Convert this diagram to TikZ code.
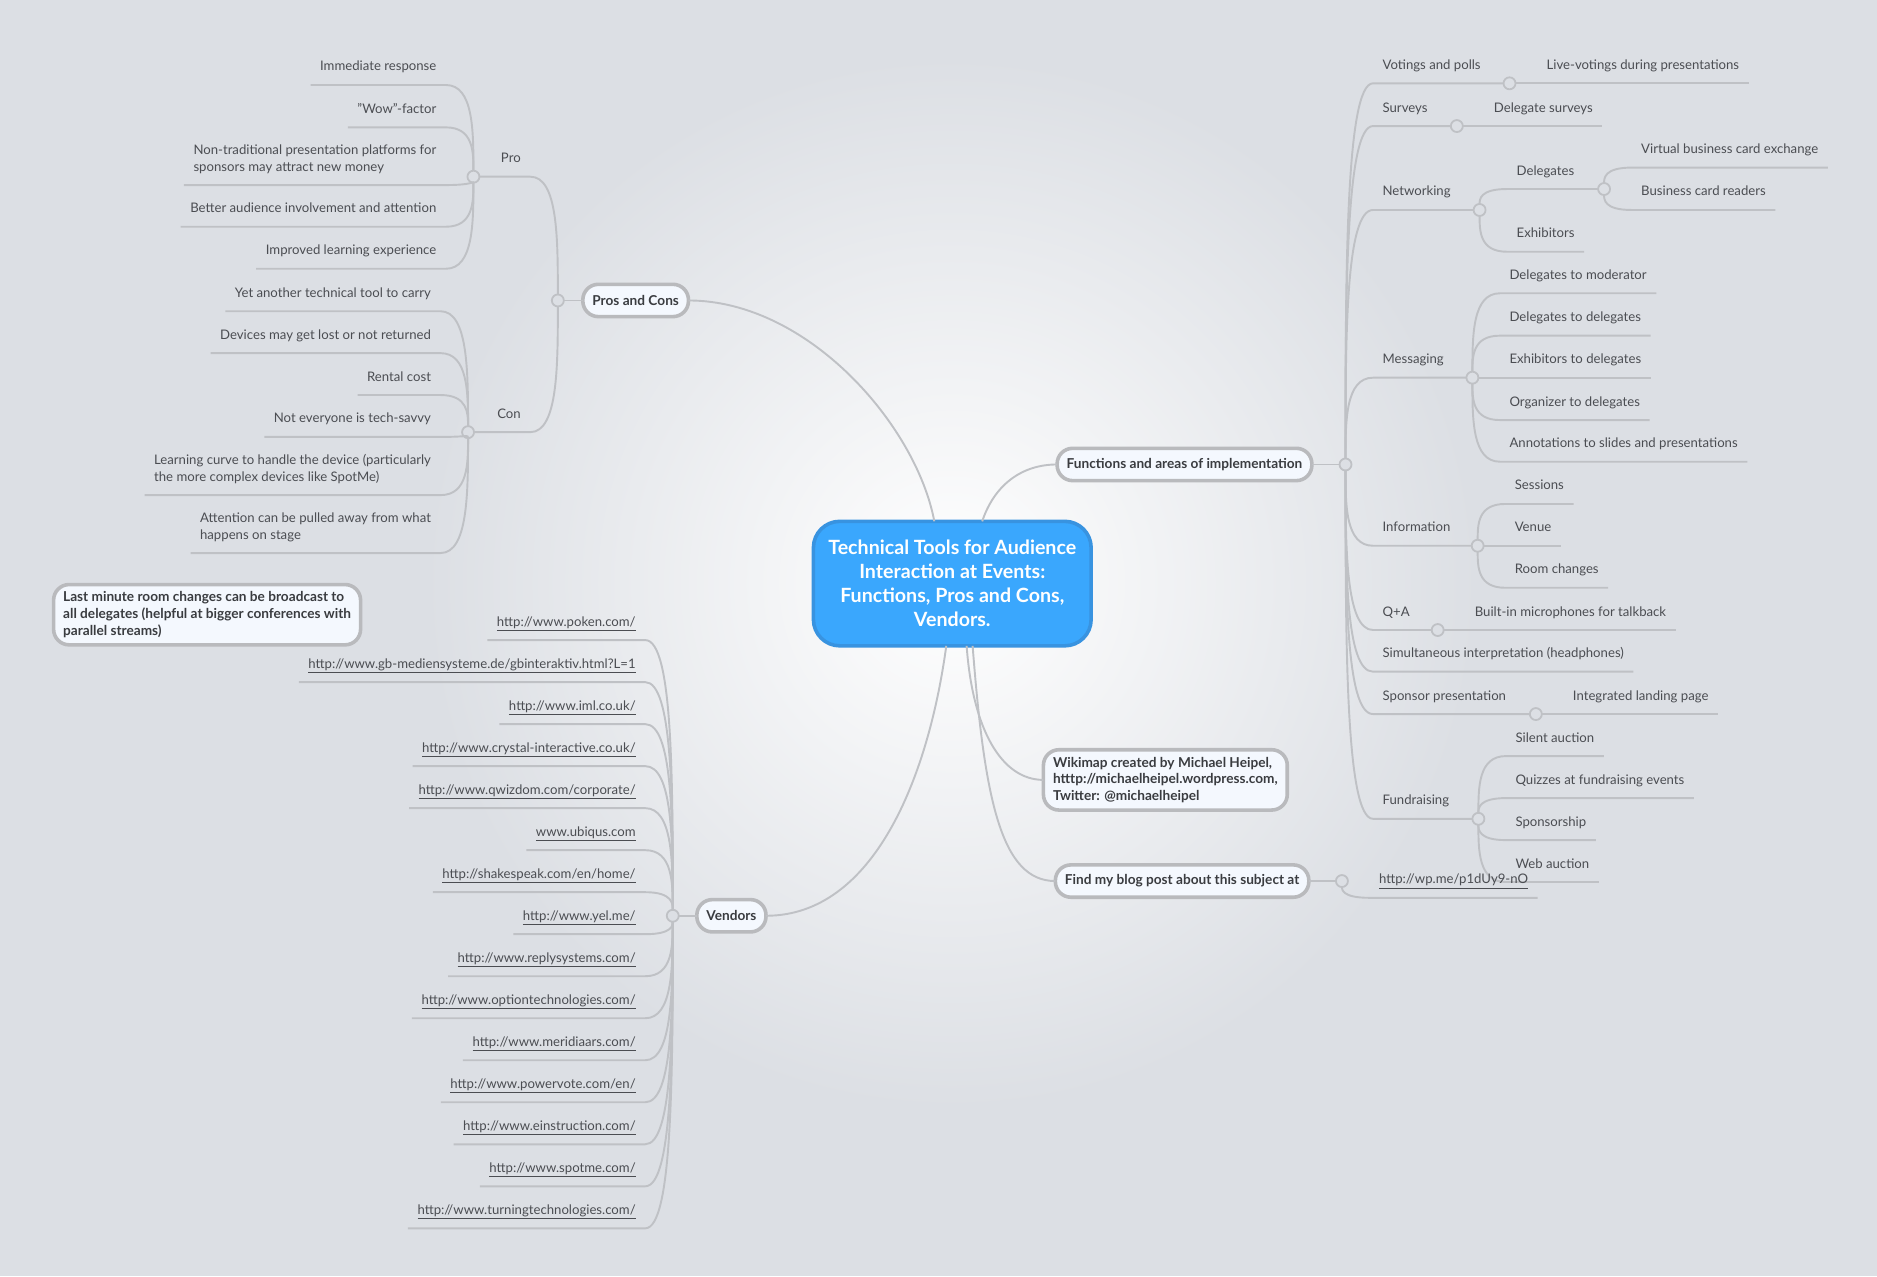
\documentclass[tikz,border=0pt]{standalone}
\usepackage{fontspec}
\setmainfont{Lato}
\usepackage{xcolor}
\usepackage{tikz}
\usetikzlibrary{calc, positioning}
\definecolor{cBg}{HTML}{DCDFE4}
\definecolor{cLine}{HTML}{BFC1C5}
\definecolor{cEdge}{HTML}{B9BABD}
\definecolor{cText}{HTML}{4B4D52}
\definecolor{cDark}{HTML}{3A3C40}
\definecolor{cCard}{HTML}{F4F8FE}
\definecolor{cBlue}{HTML}{3AA7FD}
\definecolor{cBlueEdge}{HTML}{3893E0}
% curved twig from a junction to the near end of an underline
\newcommand{\twig}[2]{\draw[twig] (#1) .. controls ($(#1)!0.5!(#1|-#2)$) and (#1|-#2) .. (#2)}

\begin{document}
\begin{tikzpicture}[
    x=1pt, y=-1pt,
    twig/.style={draw=cLine, line width=1.6pt},
    jn/.style={circle, draw=cLine, fill=cBg, line width=1.5pt,
               minimum size=10pt, inner sep=0pt, outer sep=0pt},
    leaf/.style={font=\fontsize{11}{14}\selectfont, text=cText,
                 inner xsep=8pt, inner ysep=7.5pt, outer sep=0pt,
                 align=left, execute at end node=\strut},
    lleaf/.style={leaf, anchor=south east},
    rleaf/.style={leaf, anchor=south west},
    card/.style={draw=cEdge, line width=3pt, fill=cCard, rounded corners=13pt,
                 font=\fontsize{11.4}{14}\selectfont\bfseries, text=cDark,
                 inner xsep=8pt, inner ysep=6pt, minimum height=27pt,
                 outer sep=0pt, align=left},
  ]
  \useasboundingbox (0,0) rectangle (1568,1066);
  \fill[cBg] (0,0) rectangle (1568,1066);
  \shade[inner color=white, outer color=cBg] (795,487) circle (440);

  % Main topic and branches
  \node[draw=cBlueEdge, line width=3pt, fill=cBlue, rounded corners=22pt,
        text=white, font=\fontsize{16.4}{20}\selectfont\bfseries, align=center,
        minimum width=232pt, minimum height=104pt, outer sep=0pt]
    (ctr) at (795.5,487.5) {Technical Tools for Audience\\Interaction at Events:\\
    Functions, Pros and Cons,\\Vendors.};
  \node[card] (pc) at (531,251) {Pros and Cons};
  \node[card] (fn) at (989.5,388) {Functions and areas of implementation};
  \node[card] (vd) at (611,765) {Vendors};
  \node[card] (wk) at (973.5,651.5) {Wikimap created by Michael Heipel,\\
    htttp://michaelheipel.wordpress.com,\\Twitter: @michaelheipel};
  \node[card] (bl) at (987.5,736) {Find my blog post about this subject at};
  \node[card] (lm) at (173,513.5) {Last minute room changes can be broadcast to\\
    all delegates (helpful at bigger conferences with\\parallel streams)};

  \draw[twig] ($(ctr.north)+(-15,0)$) .. controls +(-15,-80) and +(100,0) .. (pc.east);
  \draw[twig] ($(ctr.north)+(25,0)$) .. controls +(10,-30) and +(-30,0) .. (fn.west);
  \draw[twig] ($(ctr.south)+(-5,0)$) .. controls +(-15,110) and +(90,0) .. (vd.east);
  \draw[twig] ($(ctr.south)+(12,0)$) .. controls +(5,70) and +(-35,0) .. (wk.west);
  \draw[twig] ($(ctr.south)+(17,0)$) .. controls +(10,130) and +(-45,0) .. (bl.west);

  % Junctions
  \node[jn] (jpc)  at (466,251) {};
  \node[jn] (jpro) at (395.5,147.6) {};
  \node[jn] (jcon) at (391,361) {};
  \node[jn] (jv)   at (562,765) {};
  \node[jn] (jf)   at (1124,388) {};
  \node[jn] (jvp)  at (1261,69.6) {};
  \node[jn] (jsv)  at (1217,105.3) {};
  \node[jn] (jnw)  at (1236,175.4) {};
  \node[jn] (jdl)  at (1340,157.9) {};
  \node[jn] (jms)  at (1230,315.5) {};
  \node[jn] (jinf) at (1234.4,455.9) {};
  \node[jn] (jqa)  at (1201,526.3) {};
  \node[jn] (jsp)  at (1283,596.5) {};
  \node[jn] (jfr)  at (1235,684) {};
  \node[jn] (jbl)  at (1121,736) {};

  % Pros and cons
  \node[lleaf] (pro) at (443,147.6) {Pro};
  \node[lleaf] (con) at (443,361) {Con};
  \node[lleaf] (im)  at (372.5,71) {Immediate response};
  \node[lleaf] (wow) at (372.5,106.4) {"Wow"-factor};
  \node[lleaf] (ntp) at (372.5,154.6) {Non-traditional presentation platforms for\\
    sponsors may attract new money};
  \node[lleaf] (bai) at (372.5,189.4) {Better audience involvement and attention};
  \node[lleaf] (ile) at (372.5,224.5) {Improved learning experience};
  \node[lleaf] (yat) at (368,260) {Yet another technical tool to carry};
  \node[lleaf] (dml) at (368,295) {Devices may get lost or not returned};
  \node[lleaf] (rc)  at (368,330) {Rental cost};
  \node[lleaf] (nts) at (368,365) {Not everyone is tech-savvy};
  \node[lleaf] (lc)  at (368,413.6) {Learning curve to handle the device (particularly\\
    the more complex devices like SpotMe)};
  \node[lleaf] (att) at (368,462) {Attention can be pulled away from what\\happens on stage};

  \draw[twig] (pc.west) -- (jpc);
  \twig{jpc}{pro.south east} -- (jpro);
  \twig{jpc}{con.south east} -- (jcon);
  \twig{jpro}{im.south east} -- (im.south west);
  \twig{jpro}{wow.south east} -- (wow.south west);
  \twig{jpro}{ntp.south east} -- (ntp.south west);
  \twig{jpro}{bai.south east} -- (bai.south west);
  \twig{jpro}{ile.south east} -- (ile.south west);
  \twig{jcon}{yat.south east} -- (yat.south west);
  \twig{jcon}{dml.south east} -- (dml.south west);
  \twig{jcon}{rc.south east} -- (rc.south west);
  \twig{jcon}{nts.south east} -- (nts.south west);
  \twig{jcon}{lc.south east} -- (lc.south west);
  \twig{jcon}{att.south east} -- (att.south west);

  % Vendors
  \node[lleaf] (vpok) at (539,534.7) {\underline{http://www.poken.com/}};
  \node[lleaf] (vgbm) at (539,569.8) {\underline{http://www.gb-mediensysteme.de/gbinteraktiv.html?L=1}};
  \node[lleaf] (viml) at (539,604.9) {\underline{http://www.iml.co.uk/}};
  \node[lleaf] (vcry) at (539,640.0) {\underline{http://www.crystal-interactive.co.uk/}};
  \node[lleaf] (vqwz) at (539,675.1) {\underline{http://www.qwizdom.com/corporate/}};
  \node[lleaf] (vubi) at (539,710.2) {\underline{www.ubiqus.com}};
  \node[lleaf] (vsha) at (539,745.3) {\underline{http://shakespeak.com/en/home/}};
  \node[lleaf] (vyel) at (539,780.4) {\underline{http://www.yel.me/}};
  \node[lleaf] (vrep) at (539,815.5) {\underline{http://www.replysystems.com/}};
  \node[lleaf] (vopt) at (539,850.6) {\underline{http://www.optiontechnologies.com/}};
  \node[lleaf] (vmer) at (539,885.7) {\underline{http://www.meridiaars.com/}};
  \node[lleaf] (vpow) at (539,920.8) {\underline{http://www.powervote.com/en/}};
  \node[lleaf] (vein) at (539,955.9) {\underline{http://www.einstruction.com/}};
  \node[lleaf] (vspo) at (539,991.0) {\underline{http://www.spotme.com/}};
  \node[lleaf] (vtur) at (539,1026.1) {\underline{http://www.turningtechnologies.com/}};

  \draw[twig] (vd.west) -- (jv);
  \twig{jv}{vpok.south east} -- (vpok.south west);
  \twig{jv}{vgbm.south east} -- (vgbm.south west);
  \twig{jv}{viml.south east} -- (viml.south west);
  \twig{jv}{vcry.south east} -- (vcry.south west);
  \twig{jv}{vqwz.south east} -- (vqwz.south west);
  \twig{jv}{vubi.south east} -- (vubi.south west);
  \twig{jv}{vsha.south east} -- (vsha.south west);
  \twig{jv}{vyel.south east} -- (vyel.south west);
  \twig{jv}{vrep.south east} -- (vrep.south west);
  \twig{jv}{vopt.south east} -- (vopt.south west);
  \twig{jv}{vmer.south east} -- (vmer.south west);
  \twig{jv}{vpow.south east} -- (vpow.south west);
  \twig{jv}{vein.south east} -- (vein.south west);
  \twig{jv}{vspo.south east} -- (vspo.south west);
  \twig{jv}{vtur.south east} -- (vtur.south west);

  % Functions and areas of implementation
  \node[rleaf] (vot) at (1147,69.6) {Votings and polls};
  \node[rleaf] (sur) at (1147,105.3) {Surveys};
  \node[rleaf] (net) at (1147,175.4) {Networking};
  \node[rleaf] (msg) at (1147,315.5) {Messaging};
  \node[rleaf] (inf) at (1147,455.9) {Information};
  \node[rleaf] (qa)  at (1147,526.3) {Q+A};
  \node[rleaf] (sim) at (1147,561.1) {Simultaneous interpretation (headphones)};
  \node[rleaf] (spo) at (1147,596.5) {Sponsor presentation};
  \node[rleaf] (fnd) at (1147,684) {Fundraising};

  \node[rleaf] (lv)  at (1284,69.6) {Live-votings during presentations};
  \node[rleaf] (ds)  at (1240,105.3) {Delegate surveys};
  \node[rleaf] (dlg) at (1259,157.9) {Delegates};
  \node[rleaf] (exh) at (1259,210.3) {Exhibitors};
  \node[rleaf] (vbc) at (1363,140) {Virtual business card exchange};
  \node[rleaf] (bcr) at (1363,175.4) {Business card readers};
  \node[rleaf] (m1)  at (1253,245) {Delegates to moderator};
  \node[rleaf] (m2)  at (1253,280.4) {Delegates to delegates};
  \node[rleaf] (m3)  at (1253,315.5) {Exhibitors to delegates};
  \node[rleaf] (m4)  at (1253,350.9) {Organizer to delegates};
  \node[rleaf] (m5)  at (1253,385.7) {Annotations to slides and presentations};
  \node[rleaf] (i1)  at (1257.4,421) {Sessions};
  \node[rleaf] (i2)  at (1257.4,455.9) {Venue};
  \node[rleaf] (i3)  at (1257.4,491) {Room changes};
  \node[rleaf] (qa1) at (1224,526.3) {Built-in microphones for talkback};
  \node[rleaf] (sp1) at (1306,596.5) {Integrated landing page};
  \node[rleaf] (f1)  at (1258,631.6) {Silent auction};
  \node[rleaf] (f2)  at (1258,666.7) {Quizzes at fundraising events};
  \node[rleaf] (f3)  at (1258,701.8) {Sponsorship};
  \node[rleaf] (f4)  at (1258,736.8) {Web auction};

  \draw[twig] (fn.east) -- (jf);
  \twig{jf}{vot.south west} -- (jvp);
  \twig{jf}{sur.south west} -- (jsv);
  \twig{jf}{net.south west} -- (jnw);
  \twig{jf}{msg.south west} -- (jms);
  \twig{jf}{inf.south west} -- (jinf);
  \twig{jf}{qa.south west} -- (jqa);
  \twig{jf}{sim.south west} -- (sim.south east);
  \twig{jf}{spo.south west} -- (jsp);
  \twig{jf}{fnd.south west} -- (jfr);

  \draw[twig] (jvp) -- (lv.south east);
  \draw[twig] (jsv) -- (ds.south east);
  \twig{jnw}{dlg.south west} -- (jdl);
  \twig{jnw}{exh.south west} -- (exh.south east);
  \twig{jdl}{vbc.south west} -- (vbc.south east);
  \twig{jdl}{bcr.south west} -- (bcr.south east);
  \twig{jms}{m1.south west} -- (m1.south east);
  \twig{jms}{m2.south west} -- (m2.south east);
  \draw[twig] (jms) -- (m3.south east);
  \twig{jms}{m4.south west} -- (m4.south east);
  \twig{jms}{m5.south west} -- (m5.south east);
  \twig{jinf}{i1.south west} -- (i1.south east);
  \draw[twig] (jinf) -- (i2.south east);
  \twig{jinf}{i3.south west} -- (i3.south east);
  \draw[twig] (jqa) -- (qa1.south east);
  \draw[twig] (jsp) -- (sp1.south east);
  \twig{jfr}{f1.south west} -- (f1.south east);
  \twig{jfr}{f2.south west} -- (f2.south east);
  \twig{jfr}{f3.south west} -- (f3.south east);
  \twig{jfr}{f4.south west} -- (f4.south east);

  % Blog link
  \node[rleaf] (wp) at (1144,750) {\underline{http://wp.me/p1dUy9-nO}};
  \draw[twig] (bl.east) -- (jbl);
  \twig{jbl}{wp.south west} -- (wp.south east);
\end{tikzpicture}
\end{document}
